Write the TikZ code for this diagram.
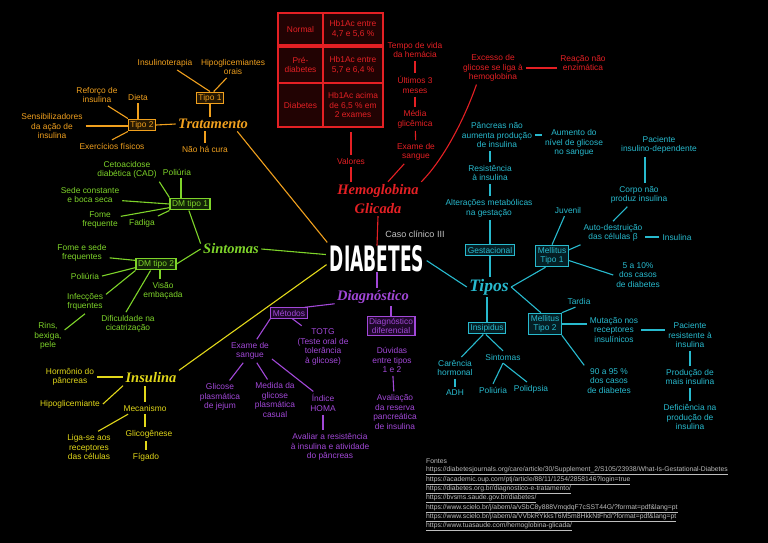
\documentclass[tikz,border=0pt]{standalone}
\usepackage{fontspec}
\setmainfont{Liberation Sans}
\newfontfamily\scrfam{Liberation Serif}
\newfontfamily\titfam{DejaVu Sans}
\usepackage{graphicx}
\usetikzlibrary{calc}
\definecolor{orng}{RGB}{240,160,30}
\definecolor{orngdk}{RGB}{38,24,2}
\definecolor{rd}{RGB}{228,32,36}
\definecolor{rddk}{RGB}{34,3,3}
\definecolor{cy}{RGB}{40,186,206}
\definecolor{cydk}{RGB}{5,30,36}
\definecolor{gr}{RGB}{126,212,42}
\definecolor{grdk}{RGB}{18,36,6}
\definecolor{yl}{RGB}{226,216,26}
\definecolor{pu}{RGB}{162,72,216}
\definecolor{pudk}{RGB}{30,8,42}
\definecolor{casogray}{RGB}{195,195,195}
\definecolor{fontgray}{RGB}{190,190,190}
\newcommand\txtsz{\fontsize{8.4}{9.6}\selectfont}
\tikzset{
  lbl/.style={align=center, inner sep=2.5pt, font=\txtsz},
  bx/.style={draw, line width=1.1pt, inner sep=2pt, fill=#1},
  hd/.style={inner sep=2pt, font=\scrfam\bfseries\itshape\fontsize{#1}{#1}\selectfont},
  cell/.style={draw, line width=1.1pt, fill=rddk, inner sep=1pt, align=center},
}
\begin{document}
\begin{tikzpicture}[x=1pt,y=-1pt,every node/.append style={lbl}]
\fill[black] (0,0) rectangle (768,543);
\useasboundingbox (0,0) rectangle (768,543);

% centre
\node[text=white, inner sep=0pt] (diab) at (377,259) {\resizebox{94pt}{26pt}{\titfam\bfseries DIABETES}};
\node[text=casogray, font=\fontsize{9}{10}\selectfont] (caso) at (415,234) {Caso clínico III};

% ---------- Tratamento (orange)
\begin{scope}[color=orng, line width=1.1pt]
\node[hd=14.5] (trat) at (213,124) {Tratamento};
\node[bx=orngdk] (t1) at (210,98) {Tipo 1};
\node[bx=orngdk] (t2) at (142,125) {Tipo 2};
\node (insu) at (165,63) {Insulinoterapia};
\node (hipo) at (233,67) {Hipoglicemiantes\\orais};
\node (dieta) at (138,97) {Dieta};
\node (refo) at (97,95) {Reforço de\\insulina};
\node (sens) at (52,126) {Sensibilizadores\\da ação de\\insulina};
\node (exer) at (112,146) {Exercícios físicos};
\node (nao) at (205,149) {Não há cura};
\draw[shorten >=4pt] ($(trat.south)!0.65!(trat.south east)$) -- (diab.north west);
\draw (t1.south) -- (t1.south |- trat.north);
\draw (insu.-30) -- (t1.north);
\draw (hipo.-120) -- (t1.60);
\draw (t2.east) -- (trat.west);
\draw (dieta.south) -- (dieta.south |- t2.north);
\draw (refo.-45) -- (t2.north west);
\draw (sens.east) -- (sens.east -| t2.west);
\draw (exer.north) -- (t2.south west);
\draw (nao.north) -- (nao.north |- trat.south);
\end{scope}

% ---------- Hemoglobina glicada (red)
\begin{scope}[color=rd, line width=1.1pt]
\node[cell, minimum width=45pt, minimum height=32pt] (c11) at (300.5,29) {Normal};
\node[cell, minimum width=60pt, minimum height=32pt] (c12) at (353,29) {Hb1Ac entre\\4,7 e 5,6 \%};
\node[cell, minimum width=45pt, minimum height=36pt] (c21) at (300.5,65) {Pré-\\diabetes};
\node[cell, minimum width=60pt, minimum height=36pt] (c22) at (353,65) {Hb1Ac entre\\5,7 e 6,4 \%};
\node[cell, minimum width=45pt, minimum height=44pt] (c31) at (300.5,105) {Diabetes};
\node[cell, minimum width=60pt, minimum height=44pt] (c32) at (353,105) {Hb1Ac acima\\de 6,5 \% em\\2 exames};
\node (valores) at (351,161) {Valores};
\node (tempo) at (415,50) {Tempo de vida\\da hemácia};
\node (ult) at (415,85) {Últimos 3\\meses};
\node (media) at (415,119) {Média\\glicêmica};
\node (exame) at (416,152) {Exame de\\sangue};
\node (excesso) at (493,68) {Excesso de\\glicose se liga à\\hemoglobina};
\node (reacao) at (583,63) {Reação não\\enzimática};
\node[inner sep=2pt, font=\scrfam\bfseries\itshape\fontsize{14.5}{19}\selectfont] (hemo) at (378,199) {Hemoglobina\\Glicada};
\draw[shorten >=4pt] (valores.north) -- (valores.north |- c32.south);
\draw (valores.south) -- (valores.south |- hemo.north);
\draw (hemo.south) -- (diab.north);
\draw (exame.-135) -- (hemo.60);
\draw (tempo) -- (ult);
\draw (ult) -- (media);
\draw (media) -- (exame);
\draw (excesso.east) -- (excesso.east -| reacao.west);
\draw (hemo.north east) .. controls (445,158) and (466,115) .. (excesso.-135);
\end{scope}

% ---------- Tipos (cyan)
\begin{scope}[color=cy, line width=1.1pt]
\node[hd=17.5] (tipos) at (489,287) {Tipos};
\node[bx=cydk] (gest) at (490,250) {Gestacional};
\node (alter) at (489,208) {Alterações metabólicas\\na gestação};
\node (resist) at (490,173) {Resistência\\à insulina};
\node (panc) at (497,135) {Pâncreas não\\aumenta produção\\de insulina};
\node (aum) at (574,143) {Aumento do\\nível de glicose\\no sangue};
\node[bx=cydk] (mt1) at (552,256) {Mellitus\\Tipo 1};
\node (juv) at (568,210) {Juvenil};
\node (auto) at (613,233) {Auto-destruição\\das células β};
\node (insC) at (677,237) {Insulina};
\node (corpo) at (639,195) {Corpo não\\produz insulina};
\node (pacdep) at (659,145) {Paciente\\insulino-dependente};
\node (cinco) at (638,275) {5 a 10\%\\dos casos\\de diabetes};
\node[bx=cydk] (mt2) at (545,324) {Mellitus\\Tipo 2};
\node (tardia) at (579,301) {Tardia};
\node (mut) at (614,330) {Mutação nos\\receptores\\insulínicos};
\node (pacres) at (690,335) {Paciente\\resistente à\\insulina};
\node (prod) at (690,377) {Produção de\\mais insulina};
\node (defic) at (690,417) {Deficiência na\\produção de\\insulina};
\node (noventa) at (609,381) {90 a 95 \%\\dos casos\\de diabetes};
\node[bx=cydk] (insip) at (487,328) {Insipidus};
\node (caren) at (455,368) {Carência\\hormonal};
\node (adh) at (455,393) {ADH};
\node (sintC) at (503,357) {Sintomas};
\node (poliC) at (493,390) {Poliúria};
\node (polid) at (531,389) {Polidpsia};
\draw[shorten <=3pt] (diab.east) -- (tipos.west);
\draw (gest.south) -- (gest.south |- tipos.north);
\draw (gest.north) -- (gest.north |- alter.south);
\draw (resist.south) -- (resist.south |- alter.north);
\draw (resist.north) -- (resist.north |- panc.south);
\draw (panc.east) -- (panc.east -| aum.west);
\draw (tipos.east) -- (mt1.-120);
\draw (juv.-120) -- (mt1.north);
\draw (mt1.20) -- (auto.south west);
\draw (insC.west) -- (insC.west -| auto.east);
\draw (corpo.-135) -- (auto.north);
\draw ([xshift=-14pt]pacdep.south) -- ([xshift=-14pt]pacdep.south |- corpo.north);
\draw (mt1.-15) -- (cinco.west);
\draw (tipos.east) -- (mt2.110);
\draw (tardia.-120) -- (mt2.north east);
\draw (mt2.east) -- (mt2.east -| mut.west);
\draw (mut.east) -- (mut.east -| pacres.west);
\draw (pacres) -- (prod);
\draw (prod) -- (defic);
\draw (mt2.south east) -- (noventa.north west);
\draw (insip.north) -- (insip.north |- tipos.south);
\draw (insip.-120) -- (caren.60);
\draw (caren) -- (adh);
\draw (insip.-100) -- (sintC.north);
\draw (sintC.south) -- (poliC.north);
\draw (sintC.south) -- (polid.120);
\end{scope}

% ---------- Diagnostico (purple)
\begin{scope}[color=pu, line width=1.1pt]
\node[hd=14.5] (diag) at (373,297) {Diagnóstico};
\node[bx=pudk] (met) at (289,313) {Métodos};
\node[bx=pudk] (dd) at (391,326) {Diagnóstico\\diferencial};
\node (duv) at (392,360) {Dúvidas\\entre tipos\\1 e 2};
\node (aval) at (395,412) {Avaliação\\da reserva\\pancreática\\de insulina};
\node (totg) at (323,347) {TOTG\\(Teste oral de\\tolerância\\à glicose)};
\node (exameP) at (250,351) {Exame de\\sangue};
\node (glic) at (220,397) {Glicose\\plasmática\\de jejum};
\node (medida) at (275,400) {Medida da\\glicose\\plasmática\\casual};
\node (homa) at (323,403) {Índice\\HOMA};
\node (avalr) at (330,447) {Avaliar a resistência\\à insulina e atividade\\do pâncreas};
\draw (diab.south) -- (diab.south |- diag.north);
\draw (diag.190) -- (met.20);
\draw (dd.north) -- (dd.north |- diag.south);
\draw (duv) -- (aval);
\draw (met.-60) -- (totg.135);
\draw (met.south west) -- (exameP.60);
\draw (exameP.-120) -- (glic.60);
\draw (exameP.-60) -- (medida.110);
\draw (exameP.-20) -- (homa.130);
\draw (homa.south) -- (homa.south |- avalr.north);
\end{scope}

% ---------- Insulina (yellow)
\begin{scope}[color=yl, line width=1.1pt]
\node[hd=14.5] (ins) at (151,378) {Insulina};
\node (hormo) at (70,377) {Hormônio do\\pâncreas};
\node (hipoY) at (70,404) {Hipoglicemiante};
\node (mec) at (145,408) {Mecanismo};
\node (liga) at (89,447) {Liga-se aos\\receptores\\das células};
\node (glico) at (149,434) {Glicogênese};
\node (figado) at (146,457) {Fígado};
\draw[shorten >=4pt] (ins.north east) -- (diab.-176);
\draw (hormo.east) -- (hormo.east -| ins.west);
\draw (hipoY.east) -- (ins.south west);
\draw (mec.north) -- (mec.north |- ins.south);
\draw (mec.-160) -- (liga.60);
\draw (mec.south) -- (mec.south |- glico.north);
\draw[line width=1.8pt] (figado.north) -- (figado.north |- glico.south);
\end{scope}

% ---------- Sintomas (green)
\begin{scope}[color=gr, line width=1.1pt]
\node[hd=14.5] (sint) at (231,249) {Sintomas};
\node[bx=grdk] (dm1) at (190,204) {DM tipo 1};
\node[bx=grdk] (dm2) at (156,264) {DM tipo 2};
\node (poli1) at (177,172) {Poliúria};
\node (ceto) at (127,170) {Cetoacidose\\diabética (CAD)};
\node (sede) at (90,195) {Sede constante\\e boca seca};
\node (fome) at (100,220) {Fome\\frequente};
\node (fadiga) at (142,223) {Fadiga};
\node (fsf) at (82,253) {Fome e sede\\frequentes};
\node (poli2) at (85,276) {Poliúria};
\node (infec) at (85,302) {Infecções\\frquentes};
\node (rins) at (48,336) {Rins,\\bexiga,\\pele};
\node (dific) at (128,324) {Dificuldade na\\cicatrização};
\node (visao) at (163,291) {Visão\\embaçada};
\draw[shorten >=4pt] (sint.east) -- (diab.175);
\draw (sint.170) -- (dm1.-100);
\draw (sint.west) -- (dm2.east);
\draw ([xshift=4pt]poli1.south) -- ([xshift=4pt]poli1.south |- dm1.north);
\draw (ceto.-20) -- (dm1.north west);
\draw (sede.-10) -- (dm1.west);
\draw (fome.10) -- (dm1.-170);
\draw (fadiga.north east) -- (dm1.south west);
\draw (fsf.-10) -- (dm2.170);
\draw (poli2.east) -- (dm2.-170);
\draw (dm2.south west) -- (infec.20);
\draw (infec.south) -- (rins.20);
\draw (dm2.-130) -- (dific.100);
\draw ([xshift=-3pt]visao.north) -- ([xshift=-3pt]visao.north |- dm2.south);
\end{scope}

% ---------- Fontes
\node[anchor=north west, align=left, text=fontgray, inner sep=0pt, font=\fontsize{6.8}{7.8}\selectfont] (fontes) at (426,459) {Fontes\\
\underline{https://diabetesjournals.org/care/article/30/Supplement\_2/S105/23938/What-Is-Gestational-Diabetes}\\
\underline{https://academic.oup.com/ptj/article/88/11/1254/2858146?login=true}\\
\underline{https://diabetes.org.br/diagnostico-e-tratamento/}\\
\underline{https://bvsms.saude.gov.br/diabetes/}\\
\underline{https://www.scielo.br/j/abem/a/vSbC8y888VmqdqF7cSST44G/?format=pdf\&lang=pt}\\
\underline{https://www.scielo.br/j/abem/a/VVbkRYkksT6M5m8HkkNtFhd/?format=pdf\&lang=pt}\\
\underline{https://www.tuasaude.com/hemoglobina-glicada/}};
\end{tikzpicture}
\end{document}
